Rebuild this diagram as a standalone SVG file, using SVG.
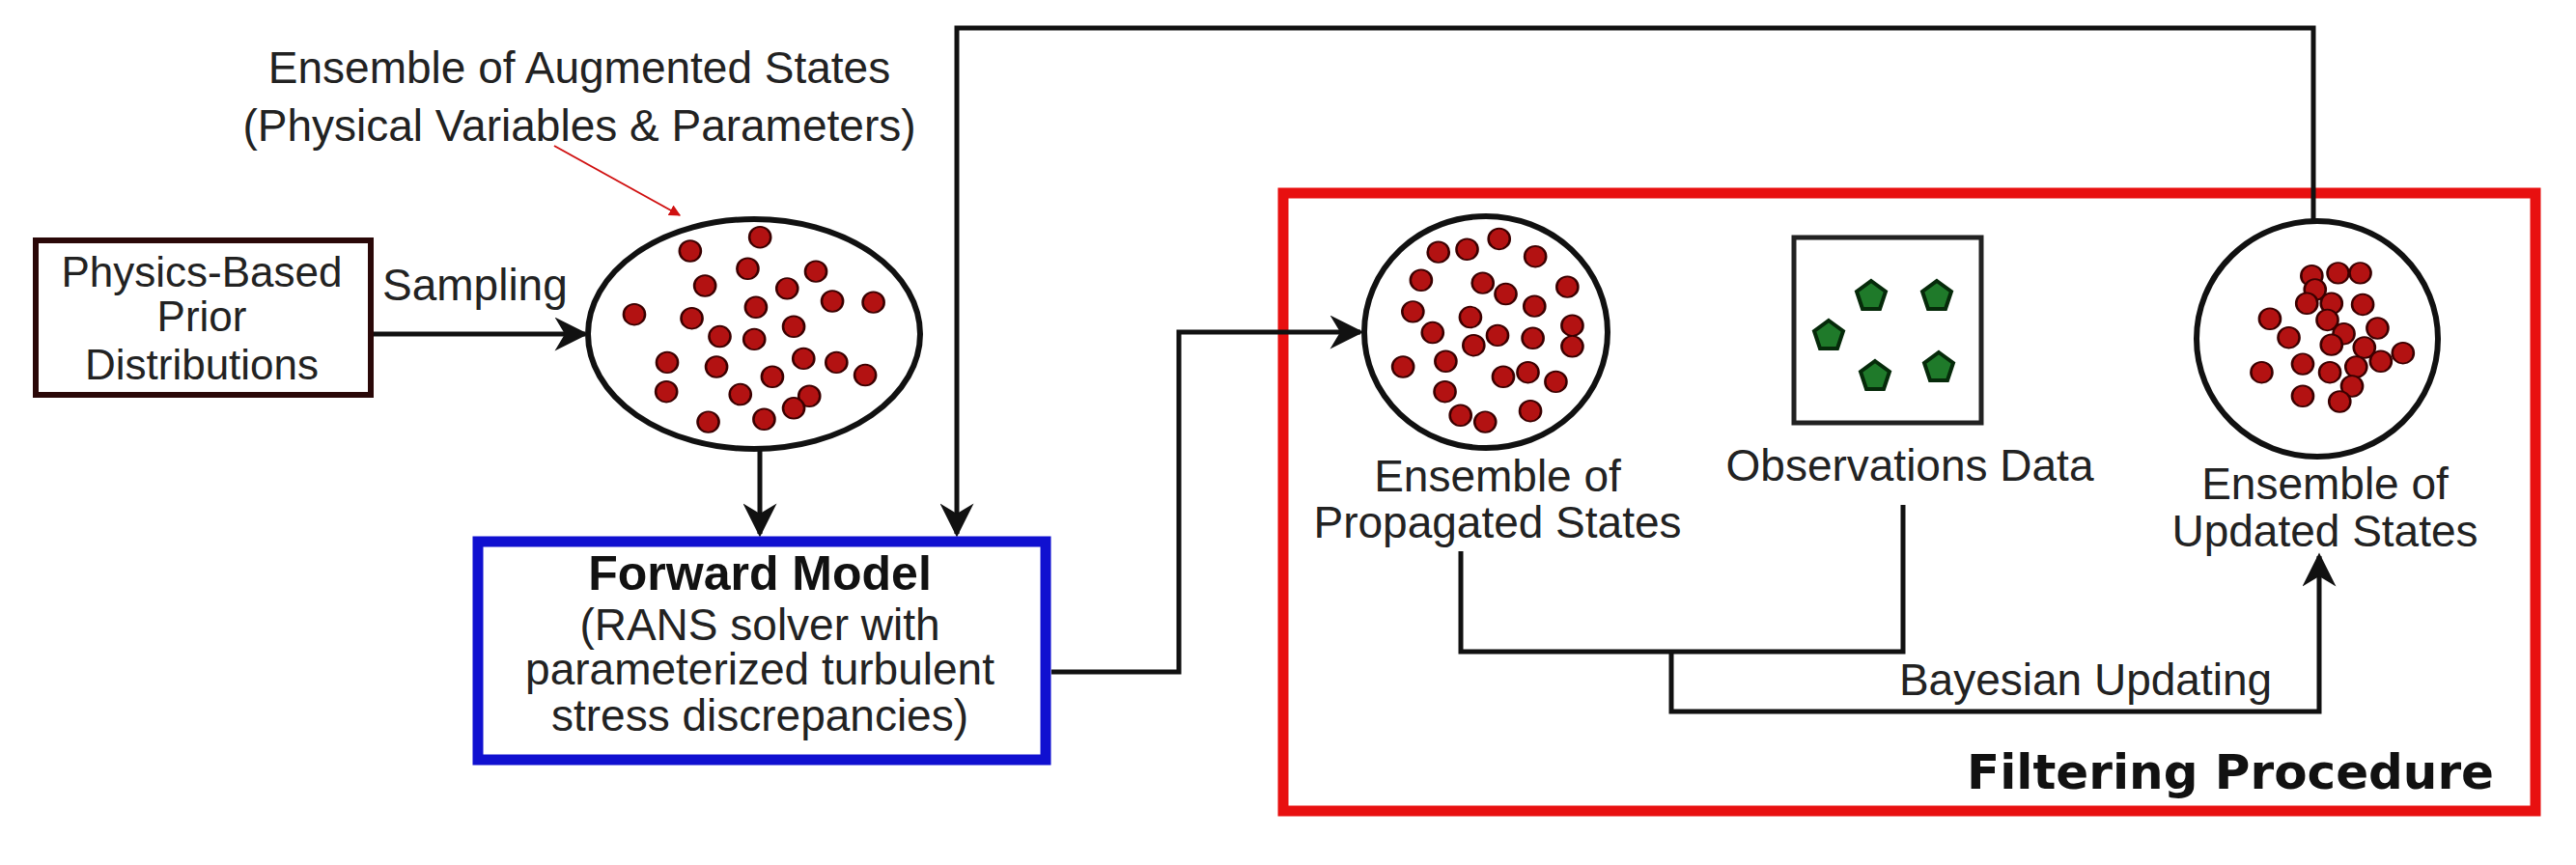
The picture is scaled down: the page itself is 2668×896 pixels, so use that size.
<svg xmlns="http://www.w3.org/2000/svg" width="2668" height="896" viewBox="0 0 2668 896">
<style>
text{font-family:"Liberation Sans",Arial,sans-serif;fill:#222;font-size:46px;text-anchor:middle}
.b{font-weight:bold}
.ln{fill:none;stroke:#111;stroke-width:5}
.d{fill:#b31212;stroke:#3a0000;stroke-width:3}
.p{fill:#1f7a2a;stroke:#062a0a;stroke-width:4}
</style>
<defs>
<marker id="ah" viewBox="0 0 10 10" refX="9" refY="5" markerWidth="8" markerHeight="7" orient="auto" markerUnits="strokeWidth"><path d="M0,0 L10,5 L0,10 L3,5 Z" fill="#111"/></marker>
<marker id="rh" viewBox="0 0 10 10" refX="9" refY="5" markerWidth="6" markerHeight="6" orient="auto" markerUnits="strokeWidth"><path d="M0,0 L10,5 L0,10 Z" fill="#d01010"/></marker>
<symbol id="dot" overflow="visible"><ellipse rx="13" ry="19" class="d"/></symbol>
</defs>
<rect width="2668" height="896" fill="#fff"/>
<g id="filtering">
<rect x="1329" y="200" width="1297" height="640" fill="none" stroke="#e81010" stroke-width="11"/>
<text class="b" x="2583" y="817" style="font-family:'DejaVu Sans',sans-serif;text-anchor:end;font-size:50px;fill:#111">Filtering Procedure</text>
</g>
<g id="connectors">
<path class="ln" d="M387,346 H606" stroke-width="6" marker-end="url(#ah)"/>
<path class="ln" d="M787,466 V553" stroke-width="6" marker-end="url(#ah)"/>
<path class="ln" d="M2396,229 V29 H991 V553" marker-end="url(#ah)"/>
<path class="ln" d="M1089,696 H1221 V344 H1409" marker-end="url(#ah)"/>
<path class="ln" d="M1513,571 V675 H1971 V523"/>
<path class="ln" d="M1731,675 V737 H2402 V576" marker-end="url(#ah)"/>
<path d="M574,151 L704,223" stroke="#d01010" stroke-width="2" fill="none" marker-end="url(#rh)"/>
<text x="2160" y="720">Bayesian Updating</text>
<text x="396" y="311" style="text-anchor:start">Sampling</text>
</g>
<g id="prior">
<rect x="37" y="249" width="347" height="160" fill="#fff" stroke="#2a0808" stroke-width="6"/>
<text x="209" y="297" style="font-size:44px">Physics-Based</text>
<text x="209" y="343" style="font-size:44px">Prior</text>
<text x="209" y="393" style="font-size:44px">Distributions</text>
</g>
<g id="augmented">
<text x="600" y="86">Ensemble of Augmented States</text>
<text x="600" y="146">(Physical Variables &amp; Parameters)</text>
<ellipse cx="781" cy="346" rx="172" ry="119" fill="#fff" stroke="#111" stroke-width="6"/>
<g transform="scale(0.851,0.5714)">
<use href="#dot" x="840" y="455"/><use href="#dot" x="925" y="430"/><use href="#dot" x="910" y="487"/><use href="#dot" x="993" y="492"/><use href="#dot" x="858" y="518"/><use href="#dot" x="958" y="523"/><use href="#dot" x="1013" y="546"/><use href="#dot" x="1063" y="548"/><use href="#dot" x="772" y="570"/><use href="#dot" x="842" y="577"/><use href="#dot" x="920" y="557"/><use href="#dot" x="876" y="610"/><use href="#dot" x="918" y="615"/><use href="#dot" x="966" y="592"/><use href="#dot" x="812" y="657"/><use href="#dot" x="872" y="665"/><use href="#dot" x="978" y="650"/><use href="#dot" x="1018" y="657"/><use href="#dot" x="1053" y="680"/><use href="#dot" x="940" y="683"/><use href="#dot" x="811" y="710"/><use href="#dot" x="901" y="715"/><use href="#dot" x="985" y="718"/><use href="#dot" x="966" y="740"/><use href="#dot" x="862" y="765"/><use href="#dot" x="930" y="760"/>
</g>
</g>
<g id="forward">
<rect x="495" y="561" width="588" height="226" fill="#fff" stroke="#1010d0" stroke-width="11"/>
<text class="b" x="787" y="611" style="font-size:50px;fill:#111">Forward Model</text>
<text x="787" y="663">(RANS solver with</text>
<text x="787" y="709">parameterized turbulent</text>
<text x="787" y="757">stress discrepancies)</text>
</g>
<g id="propagated">
<ellipse cx="1539" cy="344" rx="126" ry="120" fill="#fff" stroke="#111" stroke-width="6"/>
<g transform="translate(1334,0) scale(0.851,0.5714)">
<use href="#dot" x="183" y="457"/><use href="#dot" x="218" y="452"/><use href="#dot" x="257" y="433"/><use href="#dot" x="301" y="465"/><use href="#dot" x="162" y="508"/><use href="#dot" x="237" y="513"/><use href="#dot" x="265" y="533"/><use href="#dot" x="340" y="520"/><use href="#dot" x="152" y="565"/><use href="#dot" x="222" y="575"/><use href="#dot" x="300" y="555"/><use href="#dot" x="176" y="603"/><use href="#dot" x="255" y="608"/><use href="#dot" x="226" y="626"/><use href="#dot" x="298" y="613"/><use href="#dot" x="346" y="590"/><use href="#dot" x="346" y="628"/><use href="#dot" x="140" y="665"/><use href="#dot" x="192" y="655"/><use href="#dot" x="262" y="683"/><use href="#dot" x="292" y="675"/><use href="#dot" x="326" y="692"/><use href="#dot" x="191" y="710"/><use href="#dot" x="210" y="753"/><use href="#dot" x="240" y="765"/><use href="#dot" x="295" y="745"/>
</g>
<text x="1551" y="509">Ensemble of</text>
<text x="1551" y="557">Propagated States</text>
</g>
<g id="observations">
<rect x="1858" y="246" width="194" height="192" fill="#fff" stroke="#222" stroke-width="5"/>
<g>
<polygon class="p" points="1938,291 1953,302 1947,320 1929,320 1923,302"/>
<polygon class="p" points="2006,291 2021,302 2015,320 1997,320 1991,302"/>
<polygon class="p" points="1894,332 1909,343 1903,361 1885,361 1879,343"/>
<polygon class="p" points="1942,374 1957,385 1951,403 1933,403 1927,385"/>
<polygon class="p" points="2008,365 2023,376 2017,394 1999,394 1993,376"/>
</g>
<text x="1978" y="498">Observations Data</text>
</g>
<g id="updated">
<ellipse cx="2400" cy="351" rx="125" ry="122" fill="#fff" stroke="#111" stroke-width="6"/>
<g transform="translate(1334,0) scale(0.851,0.5714)">
<use href="#dot" x="1246" y="500"/><use href="#dot" x="1278" y="495"/><use href="#dot" x="1305" y="495"/><use href="#dot" x="1250" y="525"/><use href="#dot" x="1240" y="550"/><use href="#dot" x="1270" y="550"/><use href="#dot" x="1308" y="552"/><use href="#dot" x="1195" y="578"/><use href="#dot" x="1265" y="580"/><use href="#dot" x="1285" y="605"/><use href="#dot" x="1326" y="595"/><use href="#dot" x="1218" y="612"/><use href="#dot" x="1270" y="625"/><use href="#dot" x="1310" y="630"/><use href="#dot" x="1357" y="640"/><use href="#dot" x="1235" y="660"/><use href="#dot" x="1268" y="675"/><use href="#dot" x="1300" y="665"/><use href="#dot" x="1330" y="655"/><use href="#dot" x="1185" y="675"/><use href="#dot" x="1295" y="700"/><use href="#dot" x="1235" y="718"/><use href="#dot" x="1280" y="728"/>
</g>
<text x="2408" y="517">Ensemble of</text>
<text x="2408" y="566">Updated States</text>
</g>
</svg>
